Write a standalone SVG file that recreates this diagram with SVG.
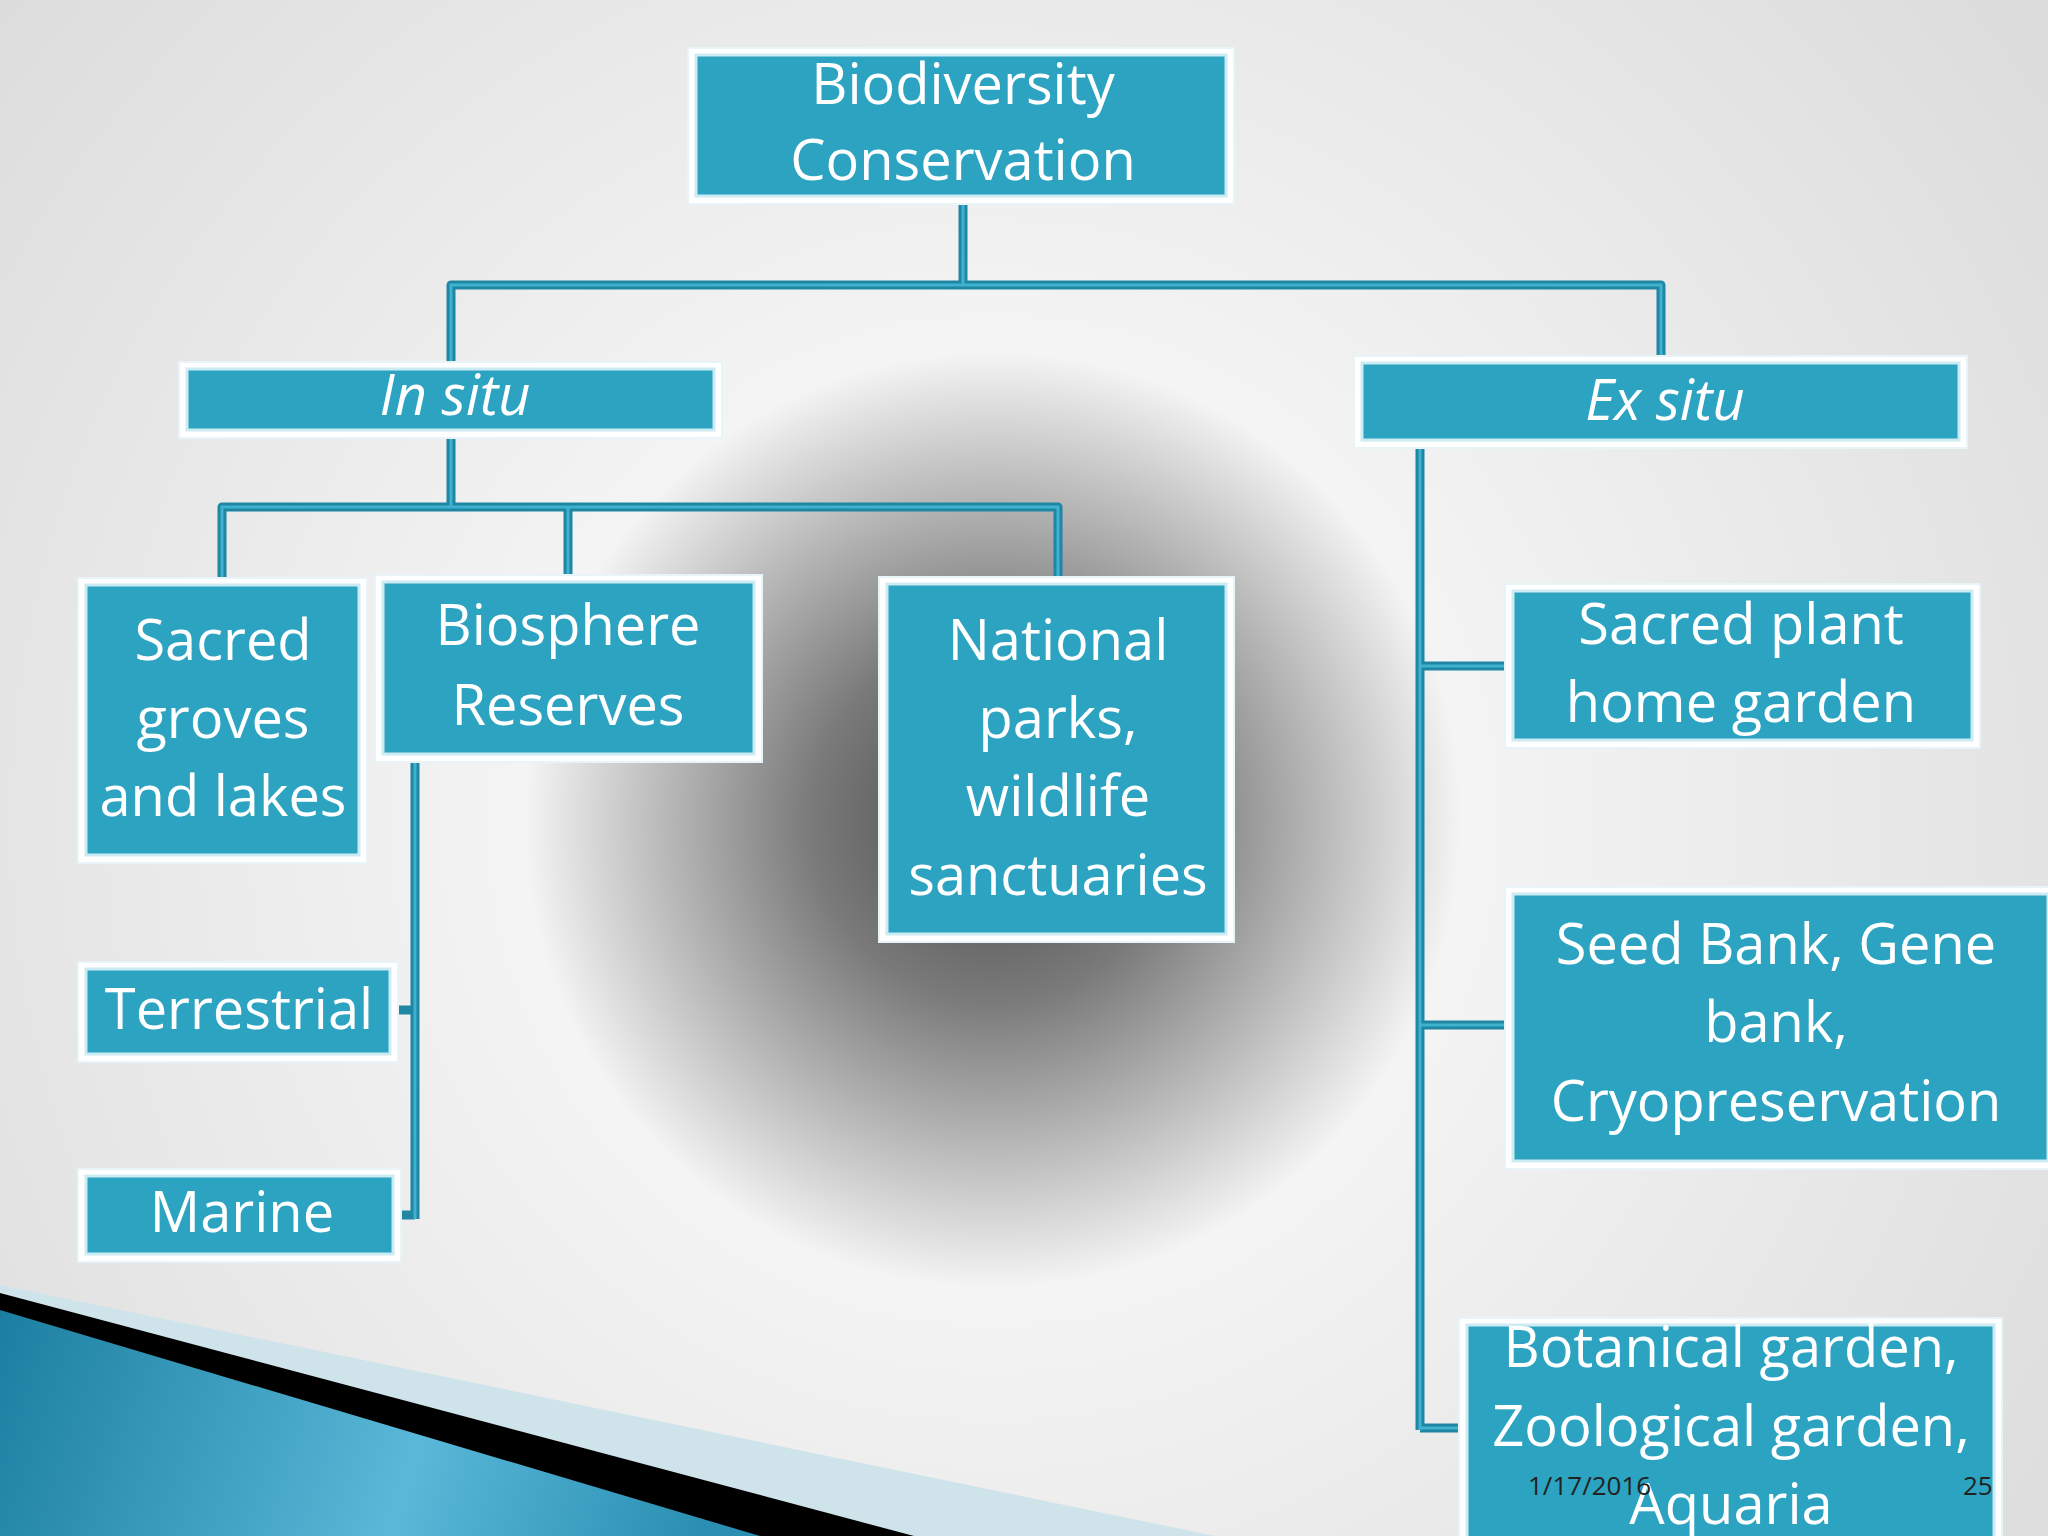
<svg xmlns="http://www.w3.org/2000/svg" width="2048" height="1536" viewBox="0 0 2048 1536">
<defs>
<radialGradient id="bg" cx="993" cy="820" r="1300" gradientUnits="userSpaceOnUse">
<stop offset="0" stop-color="#4a4a4a"/>
<stop offset="0.14" stop-color="#7a7a7a"/>
<stop offset="0.36" stop-color="#f4f4f4"/>
<stop offset="1" stop-color="#dcdcdc"/>
</radialGradient>
<linearGradient id="sw" x1="0" y1="1300" x2="700" y2="1536" gradientUnits="userSpaceOnUse">
<stop offset="0" stop-color="#1b7ea0"/>
<stop offset="0.6" stop-color="#5ab8d8"/>
<stop offset="1" stop-color="#2a8fb2"/>
</linearGradient>
<style>
.o{fill:#ffffff;stroke:#e8f4f7;stroke-width:2}
.b{fill:#2ba3c1;stroke:#cdebf2;stroke-width:3}
.t{font-family:"Open Sans","DejaVu Sans",sans-serif;font-size:56px;fill:#ffffff;text-anchor:middle}
.c{fill:none;stroke:#1f86a3;stroke-width:9;stroke-linejoin:round}
.ci{fill:none;stroke:#3fb2cf;stroke-width:3}
.f{font-family:"Open Sans","DejaVu Sans",sans-serif;font-size:26px;fill:#222}
</style>
</defs>
<rect width="2048" height="1536" fill="url(#bg)"/>
<polygon points="0,1285 1215,1536 0,1536" fill="#cfe3ea"/>
<polygon points="0,1293 914,1536 0,1536" fill="#000"/>
<polygon points="0,1310 760,1536 0,1536" fill="url(#sw)"/>
<g id="connectors">
<path class="c" d="M963,202 V285 M451,366 V285 H1661 V360 M451,434 V507 M222,580 V507 H1058 V580 M568,580 V507 M415,758 V1219 M394,1010 H415 M397,1215 H415 M1420,444 V1430 M1420,666 H1509 M1420,1025 H1509 M1420,1428 H1463"/>
<path class="ci" d="M963,202 V285 M451,366 V285 H1661 V360 M451,434 V507 M222,580 V507 H1058 V580 M568,580 V507 M415,758 V1219 M1420,444 V1430 M1420,666 H1509 M1420,1025 H1509 M1420,1428 H1463"/>
</g>
<g id="root"><rect class="o" x="688" y="48" width="546" height="156"/><rect class="b" x="696" y="55" width="530" height="141"/>
<text class="t" x="963" y="104">Biodiversity</text><text class="t" x="963" y="180">Conservation</text></g>
<g id="insitu"><rect class="o" x="179" y="362" width="543" height="76"/><rect class="b" x="187" y="369" width="527" height="61"/>
<text class="t" x="455" y="415" font-style="italic">In situ</text></g>
<g id="exsitu"><rect class="o" x="1354" y="356" width="613" height="92"/><rect class="b" x="1362" y="363" width="597" height="77"/>
<text class="t" x="1665" y="420" font-style="italic">Ex situ</text></g>
<g id="groves"><rect class="o" x="78" y="578" width="289" height="285"/><rect class="b" x="86" y="585" width="273" height="270"/>
<text class="t" x="223" y="660">Sacred</text><text class="t" x="223" y="738">groves</text><text class="t" x="223" y="816">and lakes</text></g>
<g id="biosphere"><rect class="o" x="375" y="575" width="387" height="187"/><rect class="b" x="383" y="582" width="371" height="172"/>
<text class="t" x="568" y="645">Biosphere</text><text class="t" x="568" y="725">Reserves</text></g>
<g id="national"><rect class="o" x="879" y="577" width="355" height="365"/><rect class="b" x="887" y="584" width="339" height="350"/>
<text class="t" x="1058" y="660">National</text><text class="t" x="1058" y="738">parks,</text><text class="t" x="1058" y="816">wildlife</text><text class="t" x="1058" y="895">sanctuaries</text></g>
<g id="terrestrial"><rect class="o" x="78" y="962" width="320" height="100"/><rect class="b" x="86" y="969" width="304" height="85"/>
<text class="t" x="239" y="1029">Terrestrial</text></g>
<g id="marine"><rect class="o" x="78" y="1169" width="323" height="93"/><rect class="b" x="86" y="1176" width="307" height="78"/>
<text class="t" x="242" y="1232">Marine</text></g>
<g id="sacredplant"><rect class="o" x="1505" y="584" width="475" height="164"/><rect class="b" x="1513" y="591" width="459" height="149"/>
<text class="t" x="1741" y="644">Sacred plant</text><text class="t" x="1741" y="722">home garden</text></g>
<g id="seedbank"><rect class="o" x="1505" y="887" width="550" height="282"/><rect class="b" x="1513" y="894" width="535" height="267"/>
<text class="t" x="1776" y="964">Seed Bank, Gene</text><text class="t" x="1776" y="1042">bank,</text><text class="t" x="1776" y="1121">Cryopreservation</text></g>
<g id="botanical"><rect class="o" x="1459" y="1318" width="543" height="230"/><rect class="b" x="1467" y="1325" width="527" height="215"/>
<text class="t" x="1731" y="1367">Botanical garden,</text><text class="t" x="1731" y="1446">Zoological garden,</text><text class="t" x="1731" y="1524">Aquaria</text></g>
<text class="f" x="1528" y="1495">1/17/2016</text>
<text class="f" x="1963" y="1495">25</text>
</svg>
